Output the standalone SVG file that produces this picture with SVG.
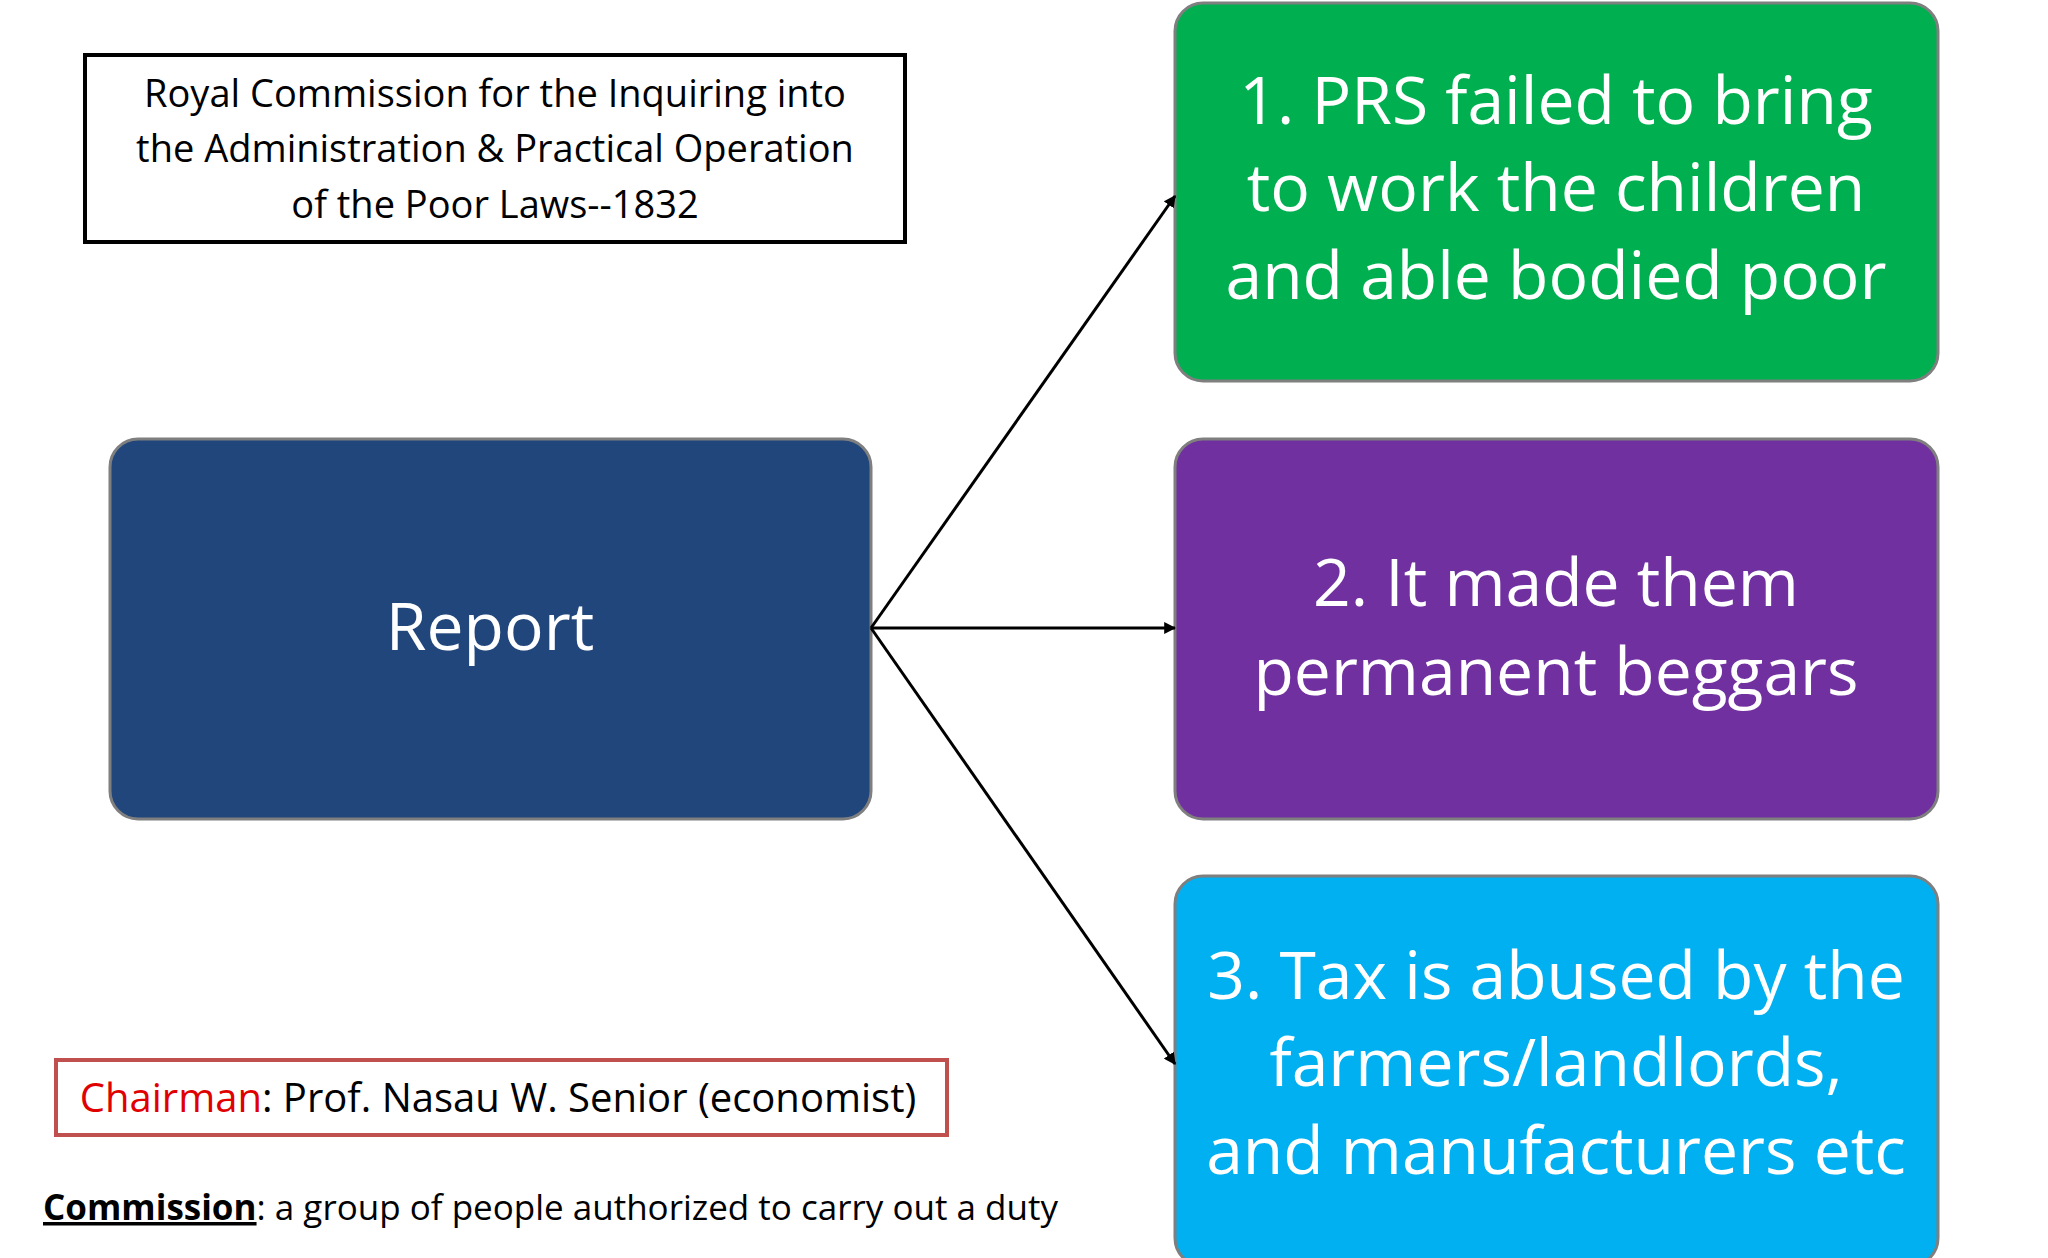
<svg xmlns="http://www.w3.org/2000/svg" width="2048" height="1258" viewBox="0 0 2048 1258">
<style>
.t{font-family:"Open Sans","Liberation Sans",sans-serif;text-anchor:middle}
.big{font-size:66px;fill:#fff}
.box{stroke:#7f7f7f;stroke-width:3}
.c{stroke:#000;stroke-width:3;fill:none;marker-end:url(#a)}
</style>
<defs>
<marker id="a" viewBox="0 0 10 10" refX="9" refY="5" markerWidth="4" markerHeight="4" orient="auto"><path d="M0,0L10,5L0,10z" fill="#000"/></marker>
</defs>
<rect width="2048" height="1258" fill="#fff"/>
<g id="title">
<rect x="85" y="55" width="820" height="187" fill="#fff" stroke="#000" stroke-width="4"/>
<text class="t" font-size="38" fill="#000"><tspan x="495" y="107">Royal Commission for the Inquiring into</tspan><tspan x="495" y="162">the Administration &amp; Practical Operation</tspan><tspan x="495" y="218">of the Poor Laws--1832</tspan></text>
</g>
<g id="report">
<rect class="box" x="110" y="439" width="761" height="380" rx="28" fill="#21467c"/>
<text class="t big" x="490" y="650">Report</text>
</g>
<g id="n1">
<rect class="box" x="1175" y="3" width="763" height="378" rx="28" fill="#00b050"/>
<text class="t big"><tspan x="1556" y="124">1. PRS failed to bring</tspan><tspan x="1556" y="211">to work the children</tspan><tspan x="1556" y="299">and able bodied poor</tspan></text>
</g>
<g id="n2">
<rect class="box" x="1175" y="439" width="763" height="380" rx="28" fill="#7030a0"/>
<text class="t big"><tspan x="1556" y="606">2. It made them</tspan><tspan x="1556" y="695">permanent beggars</tspan></text>
</g>
<g id="n3">
<rect class="box" x="1175" y="876" width="763" height="390" rx="28" fill="#00b0f0"/>
<text class="t big"><tspan x="1556" y="999">3. Tax is abused by the</tspan><tspan x="1556" y="1086">farmers/landlords,</tspan><tspan x="1556" y="1174">and manufacturers etc</tspan></text>
</g>
<g id="chair">
<rect x="56" y="1060" width="891" height="75" fill="#fff" stroke="#c0504d" stroke-width="4"/>
<text class="t" x="498" y="1112" font-size="40" fill="#000"><tspan fill="#e00000">Chairman</tspan>: Prof. Nasau W. Senior (economist)</text>
</g>
<g id="def">
<text x="43" y="1220" font-family="Open Sans,Liberation Sans,sans-serif" font-size="35" fill="#000"><tspan font-weight="bold" text-decoration="underline">Commission</tspan>: a group of people authorized to carry out a duty</text>
</g>
<g id="connectors">
<path class="c" d="M871,628L1175,196"/>
<path class="c" d="M871,628L1175,628"/>
<path class="c" d="M871,628L1175,1064"/>
</g>
</svg>
